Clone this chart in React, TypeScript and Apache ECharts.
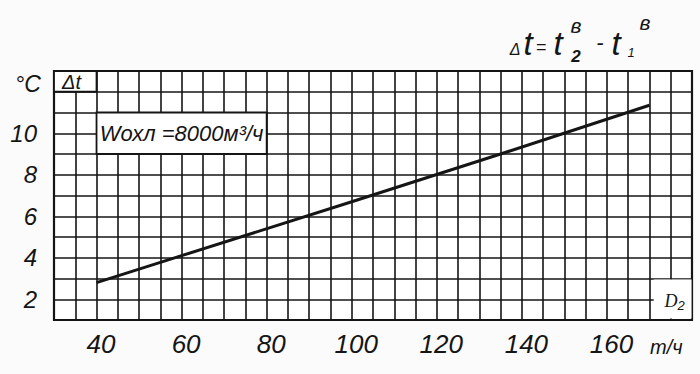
import React, { useEffect, useRef } from "react";
import * as echarts from "echarts";

// Flow rate D2, m/ч (x) and temperature difference Δt, °C (y)
const flowRates = [40, 60, 100, 135, 170];
const deltaT = [2.8, 4.1, 6.7, 9.0, 11.35];
const xTickLabels = [40, 60, 80, 100, 120, 140, 160];
const yTickLabels = [2, 4, 6, 8, 10];

const INK = "#151515";
const FONT = "'Liberation Sans', 'DejaVu Sans', sans-serif";

const glyph = (text: string, x: number, y: number, fontSize: number, extra: any = {}) => ({
  type: "text",
  silent: true,
  style: {
    text,
    x,
    y,
    fill: INK,
    fontSize,
    fontStyle: "italic",
    fontFamily: FONT,
    align: "center",
    verticalAlign: "middle",
    ...extra,
  },
});

export default function App() {
  const ref = useRef<HTMLDivElement>(null);
  useEffect(() => {
    if (!ref.current) return;
    const chart = echarts.init(ref.current, null, { renderer: "svg" });
    const data = flowRates.map((x, i) => [x, deltaT[i]]);
    chart.setOption({
      animation: false,
      backgroundColor: "#fbfbfb",
      grid: {
        left: 54,
        top: 71,
        right: 8,
        bottom: 54,
        show: true,
        borderColor: INK,
        borderWidth: 2.2,
        backgroundColor: "#fff",
      },
      xAxis: {
        type: "value",
        min: 30,
        max: 180,
        interval: 5,
        axisLine: { show: false },
        axisTick: { show: false },
        splitLine: { show: true, lineStyle: { color: INK, width: 1.6 } },
        axisLabel: {
          color: INK,
          fontSize: 26,
          fontStyle: "italic",
          fontFamily: FONT,
          margin: 11,
          padding: [0, 0, 0, 9],
          showMinLabel: true,
          showMaxLabel: true,
          formatter: (v: number) => (xTickLabels.includes(v) ? String(v) : ""),
        },
      },
      yAxis: {
        type: "value",
        min: 1,
        max: 13,
        interval: 1,
        axisLine: { show: false },
        axisTick: { show: false },
        splitLine: { show: true, lineStyle: { color: INK, width: 1.6 } },
        axisLabel: {
          color: INK,
          fontSize: 24,
          fontStyle: "italic",
          fontFamily: FONT,
          margin: 17,
          formatter: (v: number) => (yTickLabels.includes(v) ? String(v) : ""),
        },
      },
      series: [
        {
          type: "line",
          data,
          symbol: "none",
          lineStyle: { color: INK, width: 3 },
          markArea: {
            silent: true,
            data: [
              [
                {
                  coord: [40, 11],
                  itemStyle: { color: "#fff", borderColor: INK, borderWidth: 1.8 },
                  label: {
                    show: true,
                    position: "inside",
                    formatter: "Wохл =8000м³/ч",
                    color: INK,
                    fontSize: 22,
                    fontStyle: "italic",
                    fontFamily: FONT,
                  },
                },
                { coord: [80, 9] },
              ],
              [
                {
                  coord: [30, 13],
                  itemStyle: { color: "#fff", borderColor: INK, borderWidth: 1.8 },
                  label: {
                    show: true,
                    position: "insideLeft",
                    formatter: "Δt",
                    color: INK,
                    fontSize: 20,
                    fontStyle: "italic",
                    fontFamily: FONT,
                    offset: [4, 1],
                  },
                },
                { coord: [40, 12] },
              ],
              [
                {
                  coord: [171, 2.95],
                  itemStyle: { color: "#fff", borderWidth: 0 },
                  label: {
                    show: true,
                    position: "inside",
                    formatter: "{d|D}{s|2}",
                    offset: [2, 2],
                    rich: {
                      d: { color: INK, fontSize: 18, fontStyle: "italic", fontFamily: "'Liberation Serif', serif" },
                      s: { color: INK, fontSize: 13, fontStyle: "italic", fontFamily: FONT, padding: [8, 0, 0, 0] },
                    },
                  },
                },
                { coord: [179.9, 1.07] },
              ],
            ],
          },
        },
      ],
      graphic: [
        {
          type: "text",
          left: 15,
          top: 72,
          style: { text: "°C", fill: INK, fontSize: 23, fontStyle: "italic", fontFamily: FONT },
        },
        {
          type: "text",
          left: 650,
          top: 337,
          style: { text: "m/ч", fill: INK, fontSize: 20, fontStyle: "italic", fontFamily: FONT },
        },
        // Δt = t2^в - t1^в
        glyph("Δ", 515, 49, 16),
        glyph("t", 528, 43, 33),
        glyph("=", 541, 47, 18),
        glyph("t", 558, 43, 33),
        glyph("2", 576, 56, 17, { fontWeight: "bold" }),
        glyph("в", 576, 25, 21),
        glyph("-", 600, 42, 22),
        glyph("t", 616, 43, 33),
        glyph("1", 631, 52, 13),
        glyph("в", 645, 22, 21),
      ],
    });
    return () => chart.dispose();
  }, []);
  return (
    <div
      ref={ref}
      style={{ position: "fixed", left: 0, top: 0, width: 700, height: 374, background: "#fbfbfb" }}
    />
  );
}
